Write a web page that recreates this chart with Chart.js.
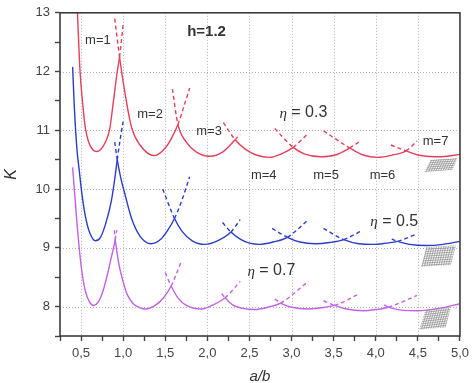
<!DOCTYPE html>
<html>
<head>
<meta charset="utf-8">
<script src="https://cdn.jsdelivr.net/npm/chart.js@4.4.0/dist/chart.umd.min.js"></script>
<style>
  html, body { margin: 0; padding: 0; background: #fff; }
</style>
</head>
<body>
<canvas id="chart" width="474" height="383"></canvas>
<script>
// tick labels (decimal comma as in the original)
const xTickLabels = ['0,5', '1,0', '1,5', '2,0', '2,5', '3,0', '3,5', '4,0', '4,5', '5,0'];
const yTickLabels = ['8', '9', '10', '11', '12', '13'];

// eta = 0.3 : branches m=1..7, each [a/b, K]; the part between the cusps is the solid envelope
const redCusps = [0.957, 1.65, 2.33, 3.02, 3.69, 4.36];
const redBranches = [
  [[0.44, 13.5], [0.457, 13.0], [0.488, 12.0], [0.52, 11.45], [0.55, 11.05], [0.59, 10.8], [0.64, 10.67], [0.684, 10.64], [0.73, 10.67], [0.79, 10.8], [0.84, 11.02], [0.885, 11.5], [0.925, 11.95], [0.957, 12.25], [1.0, 12.8]],
  [[0.9, 12.9], [0.957, 12.25], [1.02, 11.65], [1.1, 11.05], [1.2, 10.75], [1.37, 10.57], [1.5, 10.7], [1.58, 10.88], [1.65, 11.1], [1.72, 11.4], [1.79, 11.72]],
  [[1.585, 11.7], [1.65, 11.1], [1.75, 10.8], [1.87, 10.63], [2.03, 10.56], [2.18, 10.63], [2.33, 10.84], [2.39, 10.93]],
  [[2.19, 11.13], [2.33, 10.84], [2.45, 10.68], [2.58, 10.58], [2.74, 10.54], [2.88, 10.6], [3.02, 10.71], [3.2, 10.95]],
  [[2.8, 11.03], [3.02, 10.71], [3.15, 10.6], [3.35, 10.55], [3.52, 10.58], [3.69, 10.7], [3.82, 10.82]],
  [[3.38, 10.99], [3.69, 10.7], [3.85, 10.58], [4.02, 10.54], [4.2, 10.58], [4.36, 10.65], [4.49, 10.82]],
  [[4.18, 10.75], [4.36, 10.65], [4.5, 10.58], [4.7, 10.55], [4.85, 10.56], [5.0, 10.59]]
];

// eta = 0.5
const blueCusps = [0.93, 1.61, 2.28, 2.95, 3.62, 4.26];
const blueBranches = [
  [[0.40, 12.08], [0.42, 11.4], [0.45, 10.7], [0.48, 10.3], [0.51, 9.92], [0.55, 9.55], [0.6, 9.27], [0.67, 9.12], [0.73, 9.18], [0.79, 9.4], [0.86, 9.8], [0.9, 10.17], [0.93, 10.5], [0.965, 10.85], [1.0, 11.15]],
  [[0.9, 10.8], [0.93, 10.5], [0.97, 10.2], [1.02, 9.92], [1.1, 9.5], [1.2, 9.2], [1.33, 9.07], [1.45, 9.15], [1.53, 9.3], [1.61, 9.5], [1.7, 9.82], [1.79, 10.21]],
  [[1.47, 10.0], [1.61, 9.5], [1.7, 9.28], [1.82, 9.12], [1.97, 9.06], [2.12, 9.12], [2.28, 9.27], [2.39, 9.48]],
  [[2.18, 9.43], [2.28, 9.27], [2.4, 9.14], [2.5, 9.08], [2.62, 9.06], [2.78, 9.1], [2.95, 9.18], [3.2, 9.48]],
  [[2.77, 9.33], [2.95, 9.18], [3.1, 9.1], [3.28, 9.07], [3.45, 9.09], [3.62, 9.14], [3.82, 9.28]],
  [[3.38, 9.33], [3.62, 9.14], [3.8, 9.07], [3.97, 9.06], [4.12, 9.08], [4.26, 9.11], [4.49, 9.24]],
  [[4.19, 9.15], [4.26, 9.11], [4.4, 9.06], [4.6, 9.04], [4.8, 9.06], [5.0, 9.11]]
];

// eta = 0.7
const magentaCusps = [0.906, 1.57, 2.21, 2.87, 3.51, 4.15];
const magentaBranches = [
  [[0.40, 10.37], [0.42, 10.0], [0.45, 9.45], [0.49, 8.83], [0.52, 8.5], [0.55, 8.27], [0.6, 8.08], [0.65, 8.02], [0.7, 8.07], [0.75, 8.22], [0.8, 8.47], [0.85, 8.78], [0.906, 9.14], [0.925, 9.3]],
  [[0.895, 9.3], [0.906, 9.14], [0.95, 8.72], [1.0, 8.42], [1.05, 8.2], [1.12, 8.05], [1.2, 7.98], [1.27, 7.96], [1.38, 8.02], [1.48, 8.15], [1.57, 8.35], [1.63, 8.55], [1.69, 8.77]],
  [[1.5, 8.58], [1.57, 8.35], [1.65, 8.15], [1.75, 8.02], [1.93, 7.96], [2.07, 8.03], [2.21, 8.15], [2.39, 8.43]],
  [[2.17, 8.22], [2.21, 8.15], [2.3, 8.03], [2.42, 7.97], [2.56, 7.95], [2.72, 7.99], [2.87, 8.06], [3.2, 8.43]],
  [[2.8, 8.13], [2.87, 8.06], [3.0, 7.99], [3.18, 7.96], [3.35, 7.98], [3.51, 8.02], [3.81, 8.22]],
  [[3.38, 8.1], [3.51, 8.02], [3.65, 7.96], [3.85, 7.93], [4.0, 7.95], [4.15, 7.99], [4.49, 8.19]],
  [[4.1, 8.03], [4.15, 7.99], [4.3, 7.94], [4.5, 7.93], [4.75, 7.97], [5.0, 8.05]]
];

// hatched patches under the curve ends, corners [a/b, K]: bottom-left, top-left, top-right, bottom-right
const redHatch = [[4.58, 10.29], [4.65, 10.50], [4.97, 10.53], [4.91, 10.33]];
const blueHatch = [[4.54, 8.68], [4.60, 9.01], [4.95, 9.04], [4.89, 8.71]];
const magentaHatch = [[4.52, 7.61], [4.59, 7.94], [4.89, 7.99], [4.83, 7.65]];

// text placed in data units
const mLabels = [
  ['m=1', 0.70, 12.53], ['m=2', 1.32, 11.27], ['m=3', 2.02, 10.98], ['m=4', 2.67, 10.24],
  ['m=5', 3.41, 10.24], ['m=6', 4.08, 10.24], ['m=7', 4.71, 10.81]
];
const etaLabels = [['0.3', 3.14, 11.30], ['0.5', 4.22, 9.45], ['0.7', 2.76, 8.61]];

const red = '#e5405a';
const blue = '#2a3cc8';
const magenta = '#c262e4';

function branchSets(branches, cusps, color) {
  return branches.map((pts, i) => {
    const lo = i > 0 ? cusps[i - 1] : -Infinity;
    const hi = i < cusps.length ? cusps[i] : Infinity;
    return {
      data: pts.map(p => ({x: p[0], y: p[1]})),
      borderColor: color,
      borderWidth: 1.4,
      pointRadius: 0,
      fill: false,
      cubicInterpolationMode: 'monotone',
      segment: {
        borderDash: c => (c.p1.parsed.x <= lo + 1e-9 || c.p0.parsed.x >= hi - 1e-9) ? [4, 3] : undefined
      }
    };
  });
}

const isHalf = v => Math.abs(v * 2 - Math.round(v * 2)) < 1e-6;
const isInt = v => Math.abs(v - Math.round(v)) < 1e-6;

// dotted grid drawn under the curves, only at the labelled ticks
var gridPlugin = {
  id: 'dottedGrid',
  beforeDatasetsDraw: (chart) => {
    const {ctx, chartArea: a, scales: {x, y}} = chart;
    ctx.save();
    ctx.strokeStyle = '#b4b4b4';
    ctx.lineWidth = 1;
    ctx.setLineDash([1, 2]);
    ctx.beginPath();
    x.ticks.forEach(t => {
      if (isHalf(t.value) && t.value > 0.3 && t.value < 4.99) {
        const px = Math.round(x.getPixelForValue(t.value)) + 0.5;
        ctx.moveTo(px, a.top);
        ctx.lineTo(px, a.bottom);
      }
    });
    y.ticks.forEach(t => {
      if (isInt(t.value) && t.value < 12.99) {
        const py = Math.round(y.getPixelForValue(t.value)) + 0.5;
        ctx.moveTo(a.left, py);
        ctx.lineTo(a.right, py);
      }
    });
    ctx.stroke();
    ctx.restore();
  }
};

var framePlugin = {
  id: 'frame',
  afterDraw: (chart) => {
    const {ctx, chartArea: a} = chart;
    ctx.save();
    ctx.strokeStyle = '#3c3c3c';
    ctx.lineWidth = 1.6;
    ctx.strokeRect(a.left, a.top, a.right - a.left, a.bottom - a.top);
    ctx.restore();
  }
};

var hatchPlugin = {
  id: 'hatch',
  afterDatasetsDraw: (chart) => {
    const {ctx, scales: {x, y}} = chart;
    [redHatch, blueHatch, magentaHatch].forEach(corners => {
      const p = corners.map(c => [x.getPixelForValue(c[0]), y.getPixelForValue(c[1])]);
      ctx.save();
      ctx.beginPath();
      p.forEach((q, i) => i ? ctx.lineTo(q[0], q[1]) : ctx.moveTo(q[0], q[1]));
      ctx.closePath();
      ctx.clip();
      ctx.strokeStyle = '#8c8c8c';
      ctx.lineWidth = 0.7;
      const side = [p[1][0] - p[0][0], p[1][1] - p[0][1]];
      const top = [p[2][0] - p[1][0], p[2][1] - p[1][1]];
      const sideLen = Math.hypot(side[0], side[1]);
      const topLen = Math.hypot(top[0], top[1]);
      ctx.beginPath();
      for (let t = -0.3; t <= 1.3; t += 2.4 / topLen) {
        const sx = p[0][0] + t * top[0] - 0.5 * side[0];
        const sy = p[0][1] + t * top[1] - 0.5 * side[1];
        ctx.moveTo(sx, sy);
        ctx.lineTo(sx + 2 * side[0], sy + 2 * side[1]);
      }
      for (let t = -0.3; t <= 1.3; t += 2.4 / sideLen) {
        const sx = p[0][0] + t * side[0] - 0.5 * top[0];
        const sy = p[0][1] + t * side[1] - 0.5 * top[1];
        ctx.moveTo(sx, sy);
        ctx.lineTo(sx + 2 * top[0], sy + 2 * top[1]);
      }
      ctx.stroke();
      ctx.restore();
    });
  }
};

var labelPlugin = {
  id: 'labels',
  afterDatasetsDraw: (chart) => {
    const {ctx, scales: {x, y}} = chart;
    ctx.save();
    ctx.fillStyle = '#333';
    ctx.textBaseline = 'middle';
    ctx.textAlign = 'center';
    ctx.font = '13px "Liberation Sans", Arial, sans-serif';
    mLabels.forEach(l => ctx.fillText(l[0], x.getPixelForValue(l[1]), y.getPixelForValue(l[2])));

    ctx.font = 'bold 15px "Liberation Sans", Arial, sans-serif';
    ctx.fillText('h=1.2', x.getPixelForValue(1.99), y.getPixelForValue(12.68));

    ctx.textAlign = 'left';
    etaLabels.forEach(l => {
      const etaFont = 'italic 15px "Liberation Serif", "Times New Roman", serif';
      const numFont = '16px "Liberation Sans", Arial, sans-serif';
      const rest = ' = ' + l[0];
      ctx.font = etaFont;
      const w1 = ctx.measureText('\u03B7').width;
      ctx.font = numFont;
      const w2 = ctx.measureText(rest).width;
      let px = x.getPixelForValue(l[1]) - (w1 + w2) / 2;
      const py = y.getPixelForValue(l[2]);
      ctx.font = etaFont;
      ctx.fillText('\u03B7', px, py + 1);
      ctx.font = numFont;
      ctx.fillText(rest, px + w1, py);
    });
    ctx.restore();
  }
};

var datasets = [].concat(
  branchSets(redBranches, redCusps, red),
  branchSets(blueBranches, blueCusps, blue),
  branchSets(magentaBranches, magentaCusps, magenta)
);

var kChart = new Chart(document.getElementById('chart').getContext('2d'), {
  type: 'line',
  data: { datasets: datasets },
  plugins: [gridPlugin, hatchPlugin, labelPlugin, framePlugin],
  options: {
    responsive: false,
    animation: false,
    layout: { padding: { top: 9, right: 10, left: 0, bottom: 0 } },
    plugins: {
      legend: { display: false },
      tooltip: { enabled: false }
    },
    scales: {
      x: {
        type: 'linear',
        min: 0.25,
        max: 5,
        afterFit: (scale) => { scale.height = 47; },
        border: { display: false },
        grid: {
          drawOnChartArea: false,
          drawTicks: true,
          tickLength: 5,
          tickColor: '#444',
          tickWidth: 1.4
        },
        ticks: {
          stepSize: 0.25,
          autoSkip: false,
          maxRotation: 0,
          padding: 5,
          color: '#444',
          font: { family: '"Liberation Sans", Arial, sans-serif', size: 13 },
          callback: v => isHalf(v) && v >= 0.5 ? xTickLabels[Math.round(v * 2) - 1] : ''
        },
        title: {
          display: true,
          text: 'a/b',
          color: '#333',
          padding: 0,
          font: { family: '"Liberation Sans", Arial, sans-serif', size: 15, style: 'italic', lineHeight: 0.8 }
        }
      },
      y: {
        min: 7.5,
        max: 13,
        afterFit: (scale) => { scale.width = 60; },
        border: { display: false },
        grid: {
          drawOnChartArea: false,
          drawTicks: true,
          tickLength: 5,
          tickColor: '#444',
          tickWidth: 1.4
        },
        ticks: {
          stepSize: 0.5,
          autoSkip: false,
          padding: 5,
          color: '#444',
          font: { family: '"Liberation Sans", Arial, sans-serif', size: 13 },
          callback: v => isInt(v) ? yTickLabels[Math.round(v) - 8] : ''
        },
        title: {
          display: true,
          text: 'K',
          color: '#333',
          padding: { top: 2, bottom: 0 },
          font: { family: '"Liberation Sans", Arial, sans-serif', size: 16, style: 'italic' }
        }
      }
    }
  }
});
</script>
</body>
</html>
